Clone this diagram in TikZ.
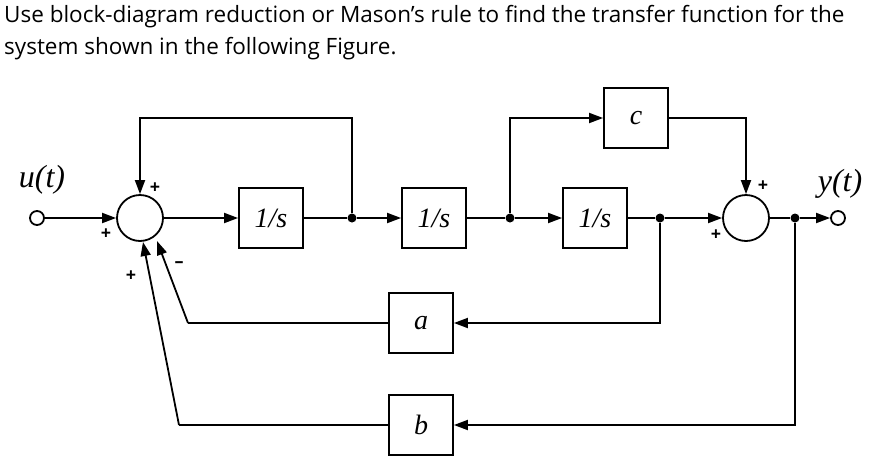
\documentclass[tikz,border=0pt]{standalone}
\usepackage{fontspec}
\setmainfont{Open Sans}
\newfontfamily\tms{Liberation Serif}
\usetikzlibrary{arrows.meta}
\begin{document}
\begin{tikzpicture}[x=1pt,y=-1pt,
  blk/.style={draw,line width=1.8pt,minimum width=64pt,minimum height=60pt,inner sep=0pt,font=\tms\fontsize{28}{28}\selectfont\itshape},
  sum/.style={draw,circle,line width=1.8pt,minimum size=46pt,inner sep=0pt},
  ln/.style={line width=1.8pt},
  ar/.style={ln,-{Triangle[length=14pt,width=10pt]}},
  dot/.style={circle,fill,inner sep=0pt,minimum size=9pt},
  term/.style={circle,draw,line width=1.8pt,inner sep=0pt,minimum size=14pt,fill=white},
  sg/.style={font=\fontsize{18}{18}\selectfont\bfseries},
  ml/.style={font=\tms\fontsize{32}{32}\selectfont\itshape}]
\useasboundingbox (0,0) rectangle (881,469);
\node[anchor=north west,align=left,font=\fontsize{22.5}{32}\selectfont,inner sep=0pt] (title) at (4,5)
 {Use block-diagram reduction or Mason's rule to find the transfer function for the\\system shown in the following Figure.};
\node[sum] (s1) at (140,218) {};
\node[sum] (s2) at (746,218) {};
\node[blk] (b1) at (271,218) {1/s};
\node[blk] (b2) at (434,218) {1/s};
\node[blk] (b3) at (595,218) {1/s};
\node[blk] (bc) at (636,118) {c};
\node[blk] (ba) at (421,323) {a};
\node[blk] (bb) at (421,425) {b};
\node[term] (in) at (37,218) {};
\node[term] (out) at (838,218) {};
\node[dot] (d1) at (352,218) {};
\node[dot] (d2) at (510,218) {};
\node[dot] (d3) at (660,218) {};
\node[dot] (d4) at (795,218) {};
\coordinate (ca) at (188,323);
\coordinate (cb) at (179,425);
\node[ml] (u) at (42,180) {u(t)};
\node[ml] (y) at (840,184) {y(t)};
\draw[ar] (in) -- (s1);
\draw[ar] (s1) -- (b1);
\draw[ln] (b1) -- (d1);
\draw[ar] (d1) -- (b2);
\draw[ln] (b2) -- (d2);
\draw[ar] (d2) -- (b3);
\draw[ln] (b3) -- (d3);
\draw[ar] (d3) -- (s2);
\draw[ln] (s2) -- (d4);
\draw[ar] (d4) -- (out);
\draw[ar] (d1) |- (140,118) -- (s1);
\draw[ar] (d2) |- (bc);
\draw[ar] (bc) -| (s2);
\draw[ar] (d3) |- (ba);
\draw[ar] (d4) |- (bb);
\draw[ln] (ba) -- (ca);
\draw[ar] (ca) -- (157,241);
\draw[ln] (bb) -- (cb);
\draw[ar] (cb) -- (143,242);
\node[sg] (p1) at (155,188) {+};
\node[sg] (p2) at (106,234) {+};
\node[sg] (p3) at (131,276) {+};
\node[sg] (m1) at (179,265) {--};
\node[sg] (p4) at (763,186) {+};
\node[sg] (p5) at (716,235) {+};
\end{tikzpicture}
\end{document}
